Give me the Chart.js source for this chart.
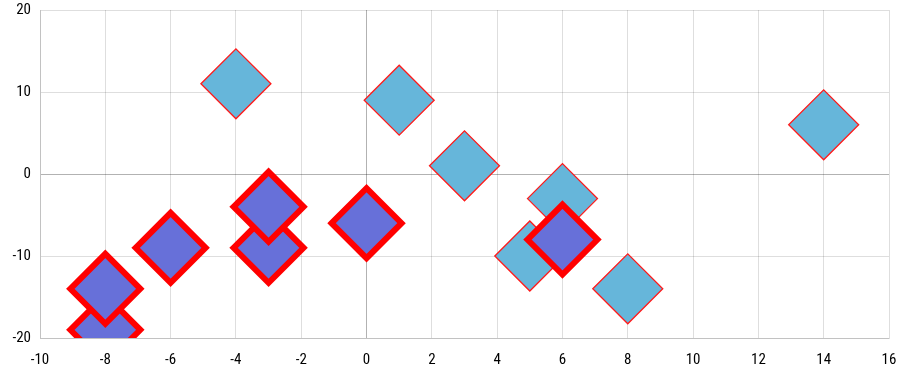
<!DOCTYPE html>
<html>
<head>
<meta charset="utf-8">
<script src="https://cdn.jsdelivr.net/npm/chart.js@4/dist/chart.umd.min.js"></script>
<style>
  html, body { margin: 0; padding: 0; background: #fff; }
  #chart { display: block; }
</style>
</head>
<body>
<canvas id="chart" width="905" height="376"></canvas>
<script>
// light blue points
const blueX = [-4, 1, 3, 6, 5, 8, 14];
const blueY = [11, 9, 1, -3, -10, -14, 6];
// purple points with thick red border
const purpleX = [-8, -8, -6, -3, -3, 0, 6];
const purpleY = [-19, -14, -9, -9, -4, -6, -8];

const xMin = -10, xMax = 16, xStep = 2;
const yMin = -20, yMax = 20, yStep = 10;

const toPoints = (xs, ys) => xs.map((x, i) => ({ x: x, y: ys[i] }));

const gridColor = (ctx) => ctx.tick && ctx.tick.value === 0 ? 'rgba(0,0,0,0.3)' : 'rgba(0,0,0,0.13)';
const tickFont = { family: '"Roboto Condensed", "DejaVu Sans Condensed", sans-serif', size: 15 };

const ctx = document.getElementById('chart').getContext('2d');
const chart = new Chart(ctx, {
    type: 'scatter',
    data: {
        datasets: [
            {
                data: toPoints(purpleX, purpleY),
                pointStyle: 'rectRot',
                pointRadius: 35,
                pointBorderWidth: 6,
                pointBackgroundColor: '#6770d9',
                pointBorderColor: '#ff0000',
                clip: 0
            },
            {
                data: toPoints(blueX, blueY),
                pointStyle: 'rectRot',
                pointRadius: 35,
                pointBorderWidth: 1.3,
                pointBackgroundColor: '#66b6da',
                pointBorderColor: '#ff1a1a',
                clip: 0
            }
        ]
    },
    options: {
        responsive: false,
        animation: false,
        layout: { autoPadding: false, padding: { top: 10, right: 16, left: 0, bottom: 0 } },
        plugins: { legend: { display: false }, tooltip: { enabled: false } },
        events: [],
        scales: {
            x: {
                type: 'linear',
                min: xMin, max: xMax,
                ticks: { stepSize: xStep, padding: 13, maxRotation: 0, color: '#000', font: tickFont },
                grid: { color: gridColor, drawTicks: false },
                border: { color: 'rgba(0,0,0,0.13)' },
                afterFit: (s) => { s.height = 38; s.paddingLeft = 0; s.paddingRight = 0; }
            },
            y: {
                min: yMin, max: yMax,
                ticks: { stepSize: yStep, padding: 9, color: '#000', font: tickFont },
                grid: { color: gridColor, drawTicks: false },
                border: { color: 'rgba(0,0,0,0.13)' },
                afterFit: (s) => { s.width = 40; s.paddingTop = 0; s.paddingBottom = 0; }
            }
        }
    }
});
</script>
</body>
</html>
